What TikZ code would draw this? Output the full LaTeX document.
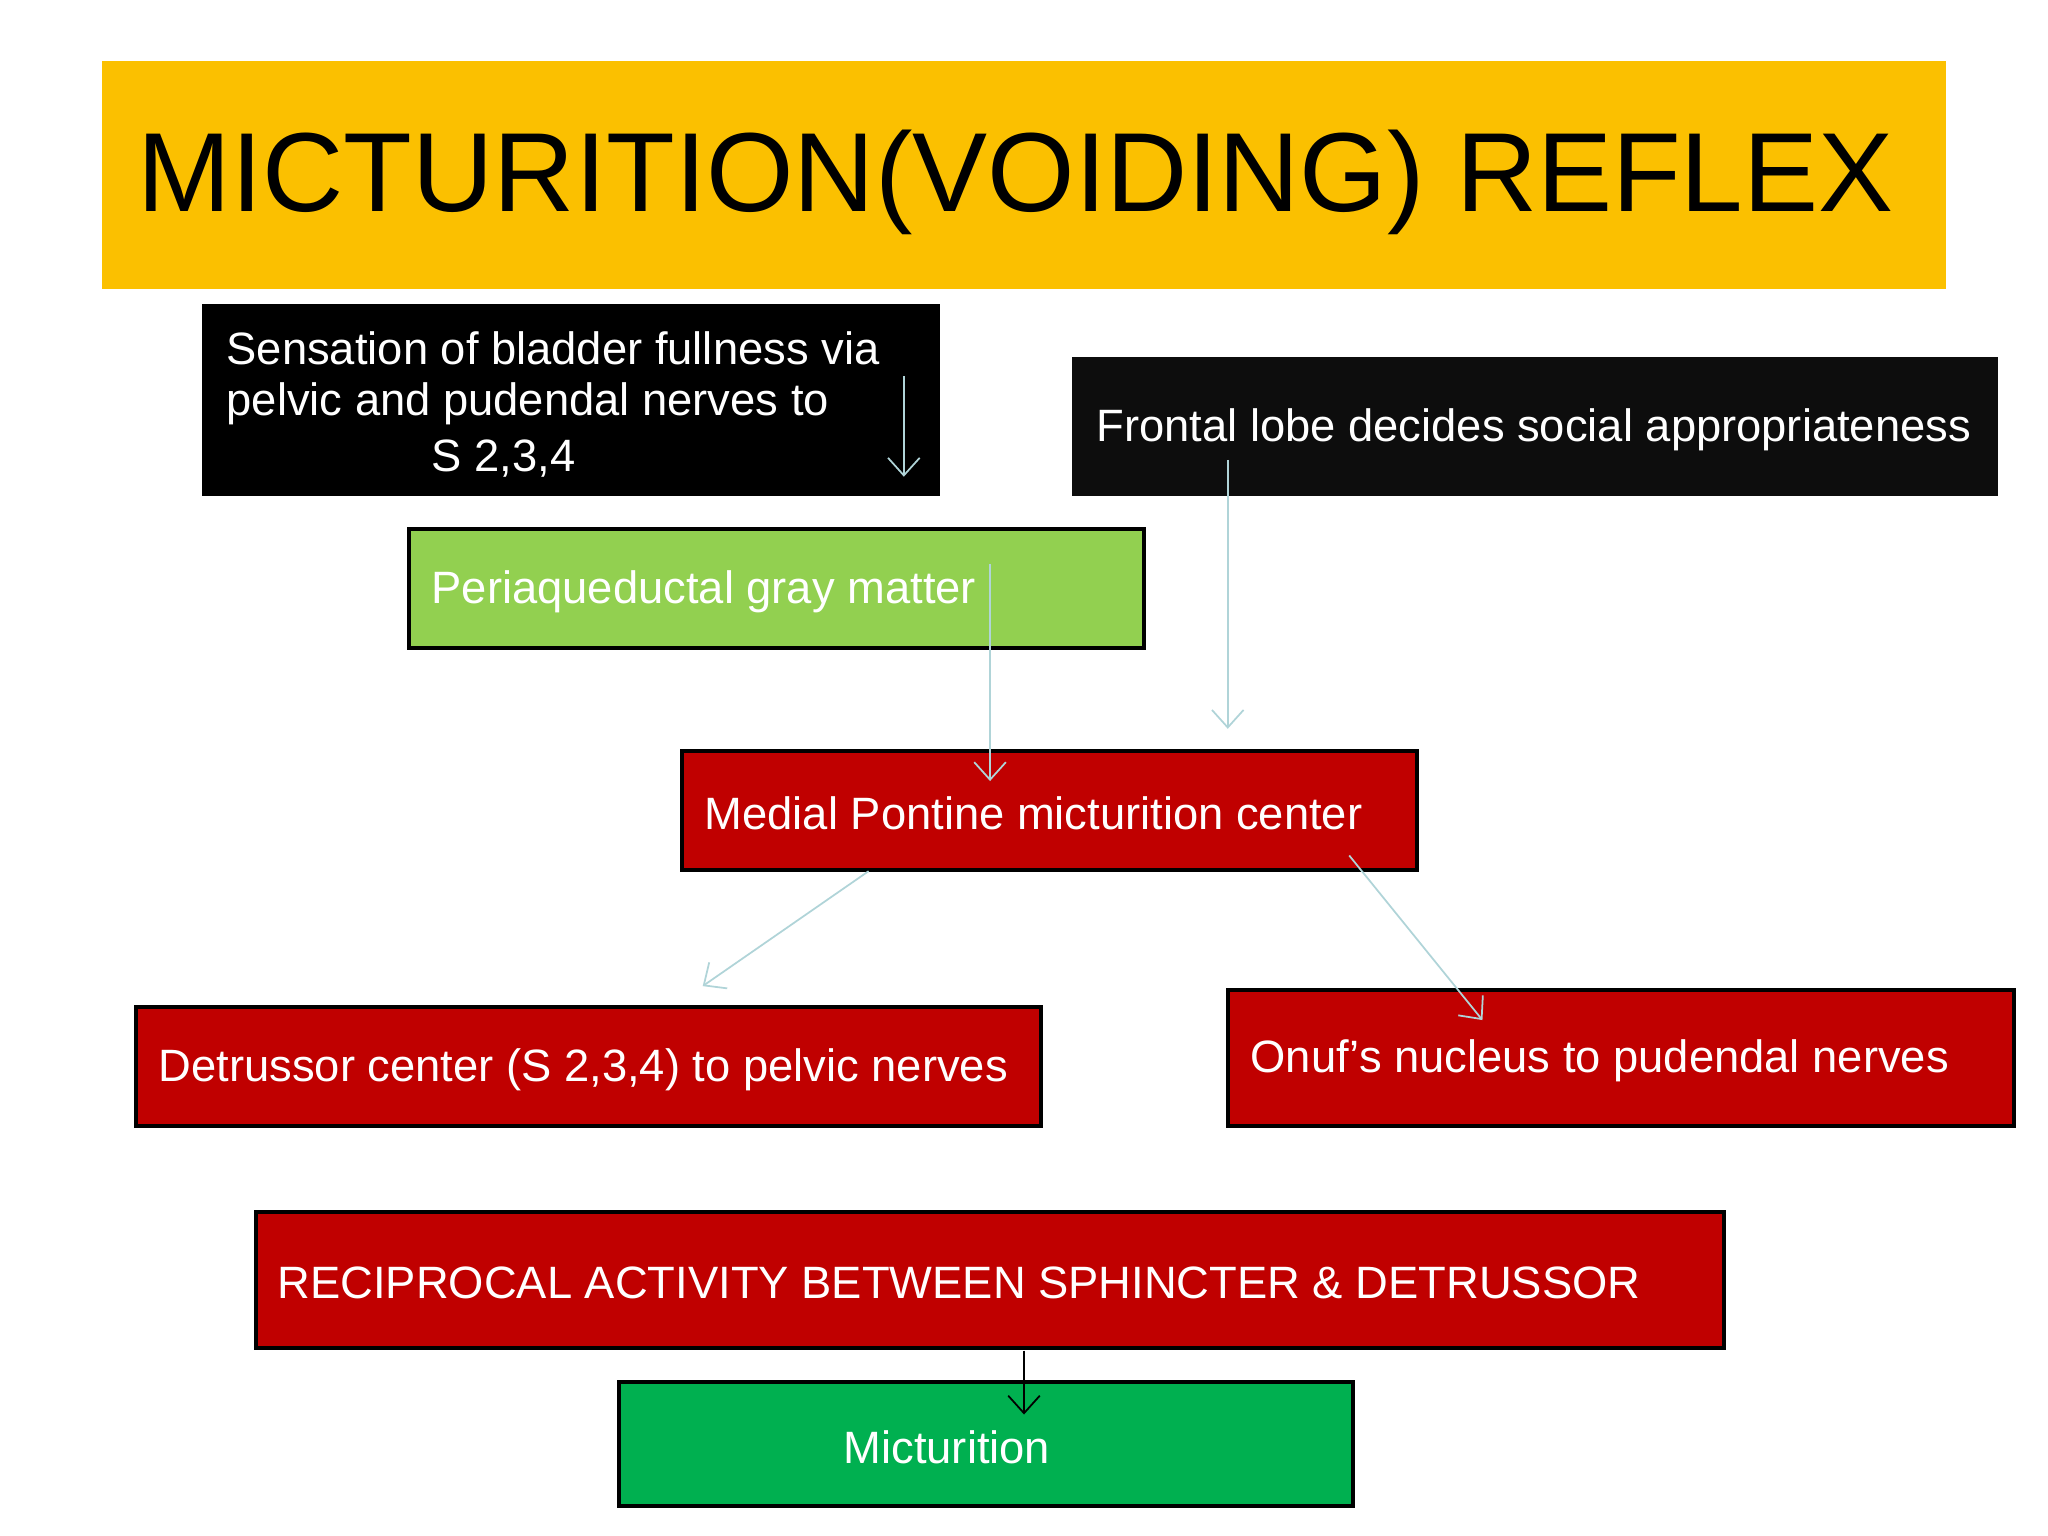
\documentclass[tikz,border=0pt]{standalone}
\usepackage{fontspec}
\usetikzlibrary{arrows.meta}
\setmainfont{Liberation Sans}
\begin{document}
\begin{tikzpicture}[x=0.01306cm,y=-0.01306cm,
  box/.style={draw=black,line width=1.1pt},
  txt/.style={anchor=west,text=white,font=\fontsize{12.9}{15}\selectfont,inner sep=0pt},
  arr/.style={draw={rgb,255:red,176;green,212;blue,216},line width=0.5pt,-{Straight Barb[length=5pt,width=9pt]}}]
\useasboundingbox (0,0) rectangle (1568,1176);
\definecolor{ttl}{HTML}{FBC000}
\definecolor{lg}{HTML}{92D050}
\definecolor{rd}{HTML}{C00000}
\definecolor{gr}{HTML}{00B050}
\fill[ttl] (78,47) rectangle (1490,221);
\node[anchor=west,inner sep=0pt,font=\fontsize{32}{36}\selectfont] (title) at (105,140) {MICTURITION(VOIDING) REFLEX};
\fill[black] (155,233) rectangle (720,380);
\node[txt] (s1) at (173,267) {Sensation of bladder fullness via};
\node[txt] (s2) at (173,309) {pelvic and pudendal nerves to};
\node[txt] (s3) at (330,351) {S 2,3,4};
\fill[black!95] (821,273) rectangle (1530,380);
\node[txt] (fl) at (839,329) {Frontal lobe decides social appropriateness};
\filldraw[box,fill=lg] (313,405) rectangle (876,496);
\node[txt] (pag) at (330,453) {Periaqueductal gray matter};
\filldraw[box,fill=rd] (522,575) rectangle (1085,666);
\node[txt] (mp) at (539,623) {Medial Pontine micturition center};
\filldraw[box,fill=rd] (104,771) rectangle (797,862);
\node[txt] (dc) at (121,819) {Detrussor center (S 2,3,4) to pelvic nerves};
\filldraw[box,fill=rd] (940,758) rectangle (1542,862);
\node[txt] (on) at (957,812) {Onuf’s nucleus to pudendal nerves};
\filldraw[box,fill=rd] (196,928) rectangle (1320,1032);
\node[txt] (ra) at (212,982) {RECIPROCAL ACTIVITY BETWEEN SPHINCTER \& DETRUSSOR};
\filldraw[box,fill=gr] (474,1058) rectangle (1036,1153);
\node[txt,anchor=center] (mi) at (725,1108) {Micturition};
\coordinate (a1) at (692,288); \coordinate (b1) at (692,365);
\coordinate (a2) at (758,432); \coordinate (b2) at (758,598);
\coordinate (a3) at (940,352); \coordinate (b3) at (940,558);
\coordinate (a4) at (665,667); \coordinate (b4) at (538,755);
\coordinate (a5) at (1033,655); \coordinate (b5) at (1135,781);
\coordinate (a6) at (784,1034); \coordinate (b6) at (784,1083);
\draw[arr] (a1) -- (b1);
\draw[arr] (a2) -- (b2);
\draw[arr] (a3) -- (b3);
\draw[arr] (a4) -- (b4);
\draw[arr] (a5) -- (b5);
\draw[arr,draw=black] (a6) -- (b6);
\end{tikzpicture}
\end{document}
